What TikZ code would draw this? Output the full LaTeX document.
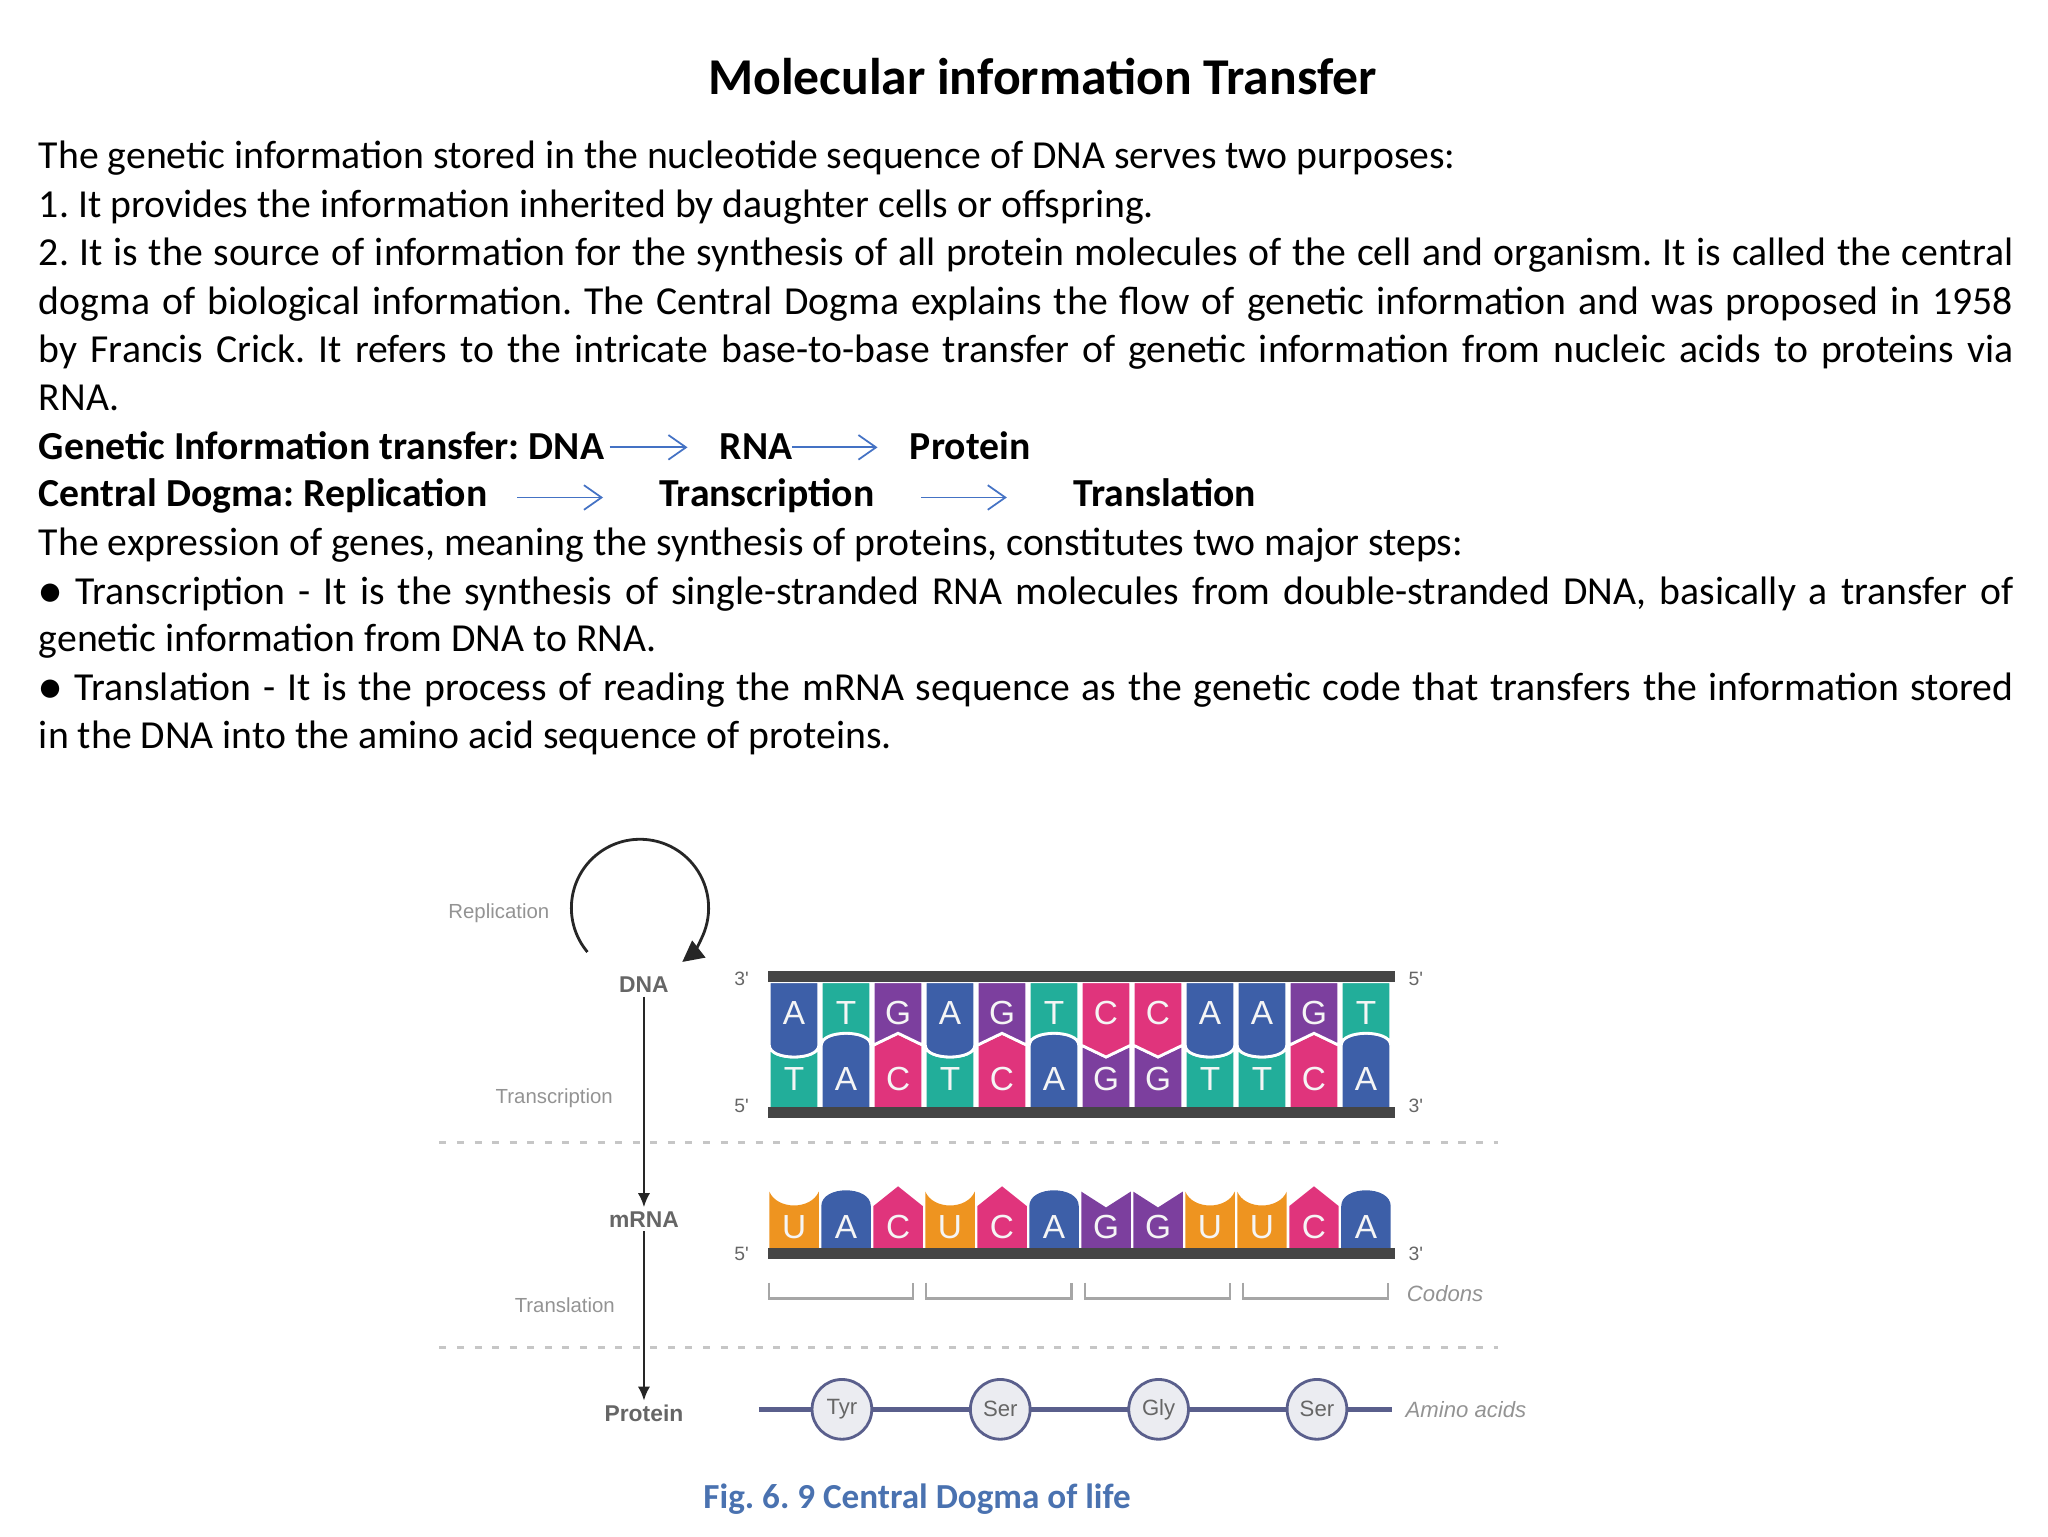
\documentclass[tikz,border=0pt]{standalone}
\usepackage{fontspec}
\setmainfont{Carlito}
\newfontfamily\figfont{Liberation Sans}
\usetikzlibrary{arrows.meta}
\frenchspacing
\definecolor{colA}{HTML}{3D5FA8}
\definecolor{colT}{HTML}{22AE9A}
\definecolor{colG}{HTML}{7C3F9E}
\definecolor{colC}{HTML}{E0347C}
\definecolor{colU}{HTML}{EE9420}
\definecolor{barc}{HTML}{454545}
\definecolor{protc}{HTML}{5A5F8C}
\definecolor{blu}{HTML}{4472C4}
\definecolor{capc}{HTML}{4A72B0}
\newcommand{\jl}[1]{\hbox to 19.75cm{#1}}
\begin{document}
\begin{tikzpicture}[x=0.013196cm,y=-0.013196cm,
 jline/.style={anchor=base west,inner sep=0pt,font=\fontsize{11.3}{13.74}\selectfont},
 pline/.style={anchor=base west,inner sep=0pt,font=\fontsize{11.3}{13.74}\selectfont},
 bline/.style={anchor=base west,inner sep=0pt,font=\fontsize{11.3}{13.74}\selectfont\bfseries},
 barrow/.style={blu,line width=0.5pt,-{Straight Barb[length=5pt,width=7pt]}},
 glab/.style={font=\figfont\fontsize{5.8}{7}\selectfont,text=gray!85,inner sep=1pt},
 mlab/.style={font=\figfont\fontsize{6.5}{8}\selectfont\bfseries,text=black!60,inner sep=1pt},
 prime/.style={font=\figfont\fontsize{5.5}{7}\selectfont,text=black!60,inner sep=0pt},
 letter/.style={font=\figfont\fontsize{9.5}{11}\selectfont,text=white!92!gray,inner sep=0pt},
 aa/.style={circle,draw=protc,fill=protc!12,line width=0.8pt,minimum size=17pt,inner sep=0pt,font=\figfont\fontsize{6.3}{8}\selectfont,text=black!60},
 vflow/.style={black!85,line width=0.7pt,-{Latex[length=4pt,width=3.5pt]}},
 sep/.style={gray!45,line width=0.8pt,dash pattern=on 2pt off 3pt}]
\useasboundingbox (0,0) rectangle (1552,1164);
\node[font=\fontsize{14.7}{18}\selectfont\bfseries] (title) at (790,58) {Molecular information Transfer};
% text
\node[pline] (l1) at (29,128) {The genetic information stored in the nucleotide sequence of DNA serves two purposes:};
\node[pline] (l2) at (29,165) {1. It provides the information inherited by daughter cells or offspring.};
\node[jline] (l3) at (29,201) {\jl{2. It is the source of information for the synthesis of all protein molecules of the cell and organism. It is called the central}};
\node[jline] (l4) at (29,238) {\jl{dogma of biological information. The Central Dogma explains the flow of genetic information and was proposed in 1958}};
\node[jline] (l5) at (29,275) {\jl{by Francis Crick. It refers to the intricate base-to-base transfer of genetic information from nucleic acids to proteins via}};
\node[pline] (l6) at (29,311) {RNA.};
\node[bline] (g1) at (29,348) {Genetic Information transfer: DNA};
\node[bline] (g2) at (545,348) {RNA};
\node[bline] (g3) at (689,348) {Protein};
\coordinate (ga1) at (462,339); \coordinate (gb1) at (521,339);
\coordinate (ga2) at (600,339); \coordinate (gb2) at (665,339);
\draw[barrow] (ga1) -- (gb1); \draw[barrow] (ga2) -- (gb2);
\node[bline] (c1) at (29,384) {Central Dogma: Replication};
\node[bline] (c2) at (499,384) {Transcription};
\node[bline] (c3) at (813,384) {Translation};
\coordinate (ca1) at (392,377); \coordinate (cb1) at (457,377);
\coordinate (ca2) at (698,377); \coordinate (cb2) at (763,377);
\draw[barrow] (ca1) -- (cb1); \draw[barrow] (ca2) -- (cb2);
\node[pline] (l9) at (29,421) {The expression of genes, meaning the synthesis of proteins, constitutes two major steps:};
\node[jline] (l10) at (29,458) {\jl{● Transcription - It is the synthesis of single-stranded RNA molecules from double-stranded DNA, basically a transfer of}};
\node[pline] (l11) at (29,494) {genetic information from DNA to RNA.};
\node[jline] (l12) at (29,531) {\jl{● Translation - It is the process of reading the mRNA sequence as the genetic code that transfers the information stored}};
\node[pline] (l13) at (29,567) {in the DNA into the amino acid sequence of proteins.};
% left flow
\node[mlab] (dna) at (488,746) {DNA};
\node[mlab] (mrna) at (488,924) {mRNA};
\node[mlab] (prot) at (488,1071) {Protein};
\node[glab] (rep) at (378,692) {Replication};
\node[glab] (trc) at (420,832) {Transcription};
\node[glab] (trl) at (428,989) {Translation};
\coordinate (rc) at (485,688);
\draw[black!85,line width=0.8pt,-{Triangle[length=6pt,width=6pt]}] (rc) ++(-220:52) arc[start angle=-220,end angle=52,radius=52];
\draw[vflow] (dna) -- (mrna);
\draw[vflow] (mrna) -- (prot);
\draw[sep] (333,866) -- (1135,866);
\draw[sep] (333,1021) -- (1135,1021);
% DNA
\foreach \i/\t/\b/\s/\r in {0/A/T/1/R,1/T/A/-1/R,2/G/C/-1/P,3/A/T/1/R,4/G/C/-1/P,5/T/A/-1/R,6/C/G/1/P,7/C/G/1/P,8/A/T/1/R,9/A/T/1/R,10/G/C/-1/P,11/T/A/-1/R}{
 \pgfmathsetmacro\xa{583+39.4*\i}
 \pgfmathsetmacro\xb{\xa+37.5}
 \pgfmathsetmacro\xc{\xa+18.75}
 \pgfmathsetmacro\yp{792+9*\s}
 \pgfmathsetmacro\yc{792+12*\s}
 \if\r R
  \path[fill=col\b,draw=white,line width=0.8pt] (\xa,840) -- (\xb,840) -- (\xb,792) .. controls (\xb,\yc) and (\xa,\yc) .. (\xa,792) -- cycle;
  \path[fill=col\t,draw=white,line width=0.8pt] (\xa,744) -- (\xb,744) -- (\xb,792) .. controls (\xb,\yc) and (\xa,\yc) .. (\xa,792) -- cycle;
 \else
  \path[fill=col\b,draw=white,line width=0.8pt] (\xa,840) -- (\xb,840) -- (\xb,792) -- (\xc,\yp) -- (\xa,792) -- cycle;
  \path[fill=col\t,draw=white,line width=0.8pt] (\xa,744) -- (\xb,744) -- (\xb,792) -- (\xc,\yp) -- (\xa,792) -- cycle;
 \fi
 \node[letter] at (\xc,768) {\t};
 \node[letter] at (\xc,818) {\b};
}
\fill[barc] (582,736) rectangle (1057,744);
\fill[barc] (582,839) rectangle (1057,847);
\node[prime] (p1) at (562,742) {3'};
\node[prime] (p2) at (1073,742) {5'};
\node[prime] (p3) at (562,838) {5'};
\node[prime] (p4) at (1073,838) {3'};
% mRNA
\foreach \i/\t/\k in {0/U/3,1/A/1,2/C/2,3/U/3,4/C/2,5/A/1,6/G/4,7/G/4,8/U/3,9/U/3,10/C/2,11/A/1}{
 \pgfmathsetmacro\xa{583+39.4*\i}
 \pgfmathsetmacro\xb{\xa+37.5}
 \pgfmathsetmacro\xc{\xa+18.75}
 \ifcase\k\or
  \path[fill=col\t] (\xa,947) -- (\xa,914) .. controls (\xa,898) and (\xb,898) .. (\xb,914) -- (\xb,947) -- cycle;
 \or
  \path[fill=col\t] (\xa,947) -- (\xa,914) -- (\xc,899) -- (\xb,914) -- (\xb,947) -- cycle;
 \or
  \path[fill=col\t] (\xa,947) -- (\xa,903) .. controls (\xa+6,917) and (\xb-6,917) .. (\xb,903) -- (\xb,947) -- cycle;
 \or
  \path[fill=col\t] (\xa,947) -- (\xa,903) -- (\xc,915) -- (\xb,903) -- (\xb,947) -- cycle;
 \fi
 \node[letter] at (\xc,930) {\t};
}
\fill[barc] (582,946) rectangle (1057,954);
\node[prime] (p5) at (562,950) {5'};
\node[prime] (p6) at (1073,950) {3'};
% codons
\foreach \a/\b in {583/692,702/812,822/932,942/1052}{
 \draw[gray!70,line width=0.6pt] (\a,972) -- (\a,984) -- (\b,984) -- (\b,972);
}
\node[glab,font=\figfont\fontsize{6.3}{8}\selectfont\itshape,anchor=west] (cod) at (1063,980) {Codons};
% protein
\draw[protc,line width=1.5pt] (575,1068) -- (1055,1068);
\node[aa] (a1) at (638,1068) {Tyr};
\node[aa] (a2) at (758,1068) {Ser};
\node[aa] (a3) at (878,1068) {Gly};
\node[aa] (a4) at (998,1068) {Ser};
\node[glab,font=\figfont\fontsize{6.3}{8}\selectfont\itshape,anchor=west] (amin) at (1062,1068) {Amino acids};
\node[font=\fontsize{10}{12}\selectfont\bfseries,text=capc] (cap) at (695,1136) {Fig. 6. 9 Central Dogma of life};
\end{tikzpicture}
\end{document}
